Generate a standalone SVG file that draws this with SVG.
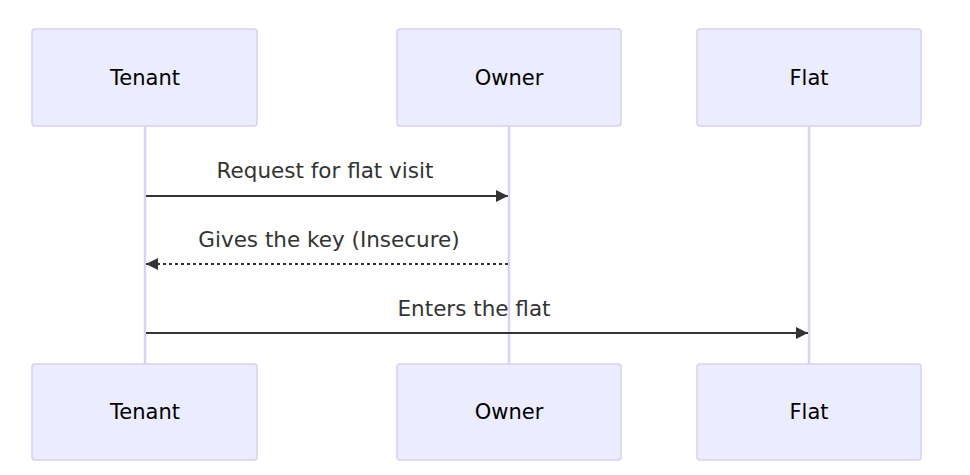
<svg xmlns="http://www.w3.org/2000/svg" width="970" height="475" viewBox="0 0 970 475">
<style>
.actor{fill:#ECECFF;stroke:#D9CFF2;stroke-width:1.5}
.at{font-family:"DejaVu Sans",sans-serif;font-size:21px;fill:#000;text-anchor:middle;dominant-baseline:central}
.life{stroke:#DCD0F5;stroke-width:2.5}
.msg{stroke:#333;stroke-width:2;fill:none}
.mt{font-family:"DejaVu Sans",sans-serif;font-size:21.5px;fill:#333;text-anchor:middle}
</style>
<defs>
<marker id="arr" viewBox="0 0 12 12" refX="12" refY="6" markerWidth="12" markerHeight="12" markerUnits="userSpaceOnUse" orient="auto"><path d="M0,0L12,6L0,12z" fill="#333"/></marker>
</defs>
<g id="lifelines">
<line class="life" x1="145" y1="126" x2="145" y2="364"/>
<line class="life" x1="509" y1="126" x2="509" y2="364"/>
<line class="life" x1="809" y1="126" x2="809" y2="364"/>
</g>
<g id="tenant-top"><rect class="actor" x="32" y="29" width="225" height="97" rx="3"/><text class="at" x="145" y="78">Tenant</text></g>
<g id="owner-top"><rect class="actor" x="397" y="29" width="224" height="97" rx="3"/><text class="at" x="509" y="78">Owner</text></g>
<g id="flat-top"><rect class="actor" x="697" y="29" width="224" height="97" rx="3"/><text class="at" x="809" y="78">Flat</text></g>
<g id="tenant-bottom"><rect class="actor" x="32" y="364" width="225" height="96" rx="3"/><text class="at" x="145" y="412">Tenant</text></g>
<g id="owner-bottom"><rect class="actor" x="397" y="364" width="224" height="96" rx="3"/><text class="at" x="509" y="412">Owner</text></g>
<g id="flat-bottom"><rect class="actor" x="697" y="364" width="224" height="96" rx="3"/><text class="at" x="809" y="412">Flat</text></g>
<g id="connectors">
<line class="msg" x1="146" y1="196" x2="508" y2="196" marker-end="url(#arr)"/>
<text class="mt" x="325" y="178">Request for flat visit</text>
<line class="msg" x1="508" y1="264" x2="146" y2="264" stroke-dasharray="3,3" marker-end="url(#arr)"/>
<text class="mt" x="329" y="247">Gives the key (Insecure)</text>
<line class="msg" x1="146" y1="333" x2="808" y2="333" marker-end="url(#arr)"/>
<text class="mt" x="474" y="316">Enters the flat</text>
</g>
</svg>
